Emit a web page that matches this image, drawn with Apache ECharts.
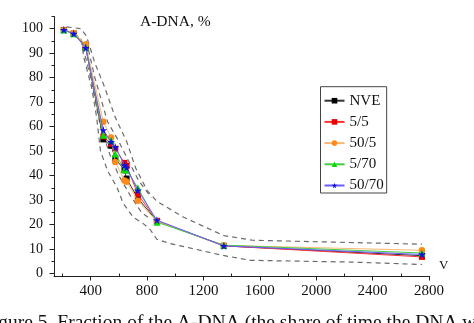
<!DOCTYPE html>
<html><head><meta charset="utf-8">
<script src="https://cdn.jsdelivr.net/npm/echarts@6/dist/echarts.min.js"></script>
<style>html,body{margin:0;padding:0;background:#fff}#c{width:474px;height:323px}</style>
</head><body><div id="c"></div>
<script>
var xValues = [210, 280, 365, 490, 545, 575, 640, 655, 735, 870, 1345, 2750];
var seriesNames = ['NVE', '5/5', '50/5', '5/70', '50/70'];
var yNVE  = [99.5, 98, 92.5, 54.8, 52.2, 47, 42.2, 38.8, 30.7, 21.5, 11.3, 7.3];
var y5_5  = [99.5, 98, 92.5, 56, 53, 51, 45.2, 44, 32.4, 21.5, 11.3, 6.8];
var y50_5 = [99.5, 98.3, 93.6, 62, 55.6, 45.6, 38, 37.5, 29.7, 21.3, 11.5, 9.5];
var y5_70 = [99.5, 98, 92.5, 56.5, 54.5, 48.8, 42.5, 42.2, 35, 21, 11.6, 8.4];
var y50_70= [99.5, 98, 92.2, 58.6, 53.8, 51.6, 44.3, 43.3, 34, 21.8, 11.3, 7.8];
var upperOuter = [[230,100.8],[330,100],[370,97],[430,86],[500,76],[573,64],[655,54],[720,43],[800,34],[870,29.5],[1060,23],[1345,15.5],[1550,13.6],[2750,12]];
var upperInner = [[370,95],[430,80],[520,62],[590,55],[660,47],[740,38],[830,31]];
var lowerInner = [[330,96],[400,80],[470,60],[540,48],[600,40],[680,32],[760,25],[830,22]];
var lowerOuter = [[290,98],[336,95],[350,88.6],[407,76],[442,64],[470,50],[520,42],[585,35.4],[632,28.6],[702,23],[773,20.4],[822,18],[869,14],[962,12.3],[1330,7.5],[1533,5.4],[2242,4.7],[2750,3.7]];
var xTickLabels = [400, 800, 1200, 1600, 2000, 2400, 2800];
var xMinorTicks = [200, 600, 1000, 1400, 1800, 2200, 2600];
var yTickLabels = [0, 10, 20, 30, 40, 50, 60, 70, 80, 90, 100];
var yMinorTicks = [5, 15, 25, 35, 45, 55, 65, 75, 85, 95, 105];

var serif = 'Liberation Serif';
function pairs(ys){ return xValues.map(function(x,i){ return [x, ys[i]]; }); }
var ySets = [yNVE, y5_5, y50_5, y5_70, y50_70];
var lineColors = ['#333333', '#ff3030', '#f9b870', '#40d040', '#6a5cff'];
var markColors = ['#000000', '#e80000', '#ff8a1a', '#00dd00', '#1010e0'];
var symbols = ['rect', 'rect', 'circle', 'triangle', 'path://M50,0 L61,35 L98,35 L68,57 L79,91 L50,70 L21,91 L32,57 L2,35 L39,35 Z'];
var symSizes = [6, 6, 6.5, 7, 8];

var series = [];
[upperOuter, upperInner, lowerInner, lowerOuter].forEach(function(d){
  series.push({type:'line', data:d, symbol:'none', silent:true, z:1,
    lineStyle:{color:'#6b6b6b', width:1.2, type:[5,4]}});
});
seriesNames.forEach(function(n,i){
  series.push({name:n, type:'line', data:pairs(ySets[i]), symbol:symbols[i], symbolSize:symSizes[i],
    z:3+i, lineStyle:{color:lineColors[i], width:1},
    itemStyle:{color:markColors[i], borderWidth:0}});
});

var chart = echarts.init(document.getElementById('c'), null, {renderer:'canvas'});
chart.setOption({
  animation:false,
  backgroundColor:'#fff',
  grid:{left:54, right:45, top:16.5, bottom:47},
  legend:{orient:'vertical', left:320.5, top:86.7, data:seriesNames,
    padding:[6.5,3,0,3], itemGap:6.2, itemWidth:20, itemHeight:7,
    borderColor:'#444', borderWidth:1, borderRadius:0,
    textStyle:{fontFamily:serif, fontSize:15, color:'#111', lineHeight:13}},
  xAxis:[
    {type:'value', min:140, max:2800, splitLine:{show:false},
     axisLine:{onZero:false, lineStyle:{color:'#222', width:1}},
     axisTick:{customValues:xTickLabels, length:4.5, lineStyle:{color:'#222'}},
     axisLabel:{customValues:xTickLabels, margin:8, fontFamily:serif, fontSize:15, color:'#111',
       formatter:function(v){ return String(v); }}},
    {type:'value', min:140, max:2800, position:'bottom', splitLine:{show:false},
     axisLine:{show:false}, axisLabel:{show:false},
     axisTick:{show:true, customValues:xMinorTicks, length:2.5, lineStyle:{color:'#222'}}}
  ],
  yAxis:[
    {type:'value', min:-1, max:105, splitLine:{show:false},
     axisLine:{show:true, onZero:false, lineStyle:{color:'#222', width:1}},
     axisTick:{show:true, customValues:yTickLabels, length:4.5, lineStyle:{color:'#222'}},
     axisLabel:{customValues:yTickLabels, margin:11, fontFamily:serif, fontSize:14, color:'#111'}},
    {type:'value', min:-1, max:105, position:'left', splitLine:{show:false},
     axisLine:{show:false}, axisLabel:{show:false},
     axisTick:{show:true, customValues:yMinorTicks, length:2.5, lineStyle:{color:'#222'}}}
  ],
  series: series,
  graphic:[
    {type:'text', left:140, top:13.5, style:{text:'A-DNA, %', fontFamily:serif, fontSize:15.5, fill:'#111'}},
    {type:'text', left:439, top:259, style:{text:'V', fontFamily:serif, fontSize:13, fill:'#111'}},
    {type:'text', left:-18, top:312.5, style:{text:'Figure 5. Fraction of the A-DNA (the share of time the DNA was in the A-form)', fontFamily:serif, fontSize:19.5, fill:'#111'}}
  ]
});
</script></body></html>
